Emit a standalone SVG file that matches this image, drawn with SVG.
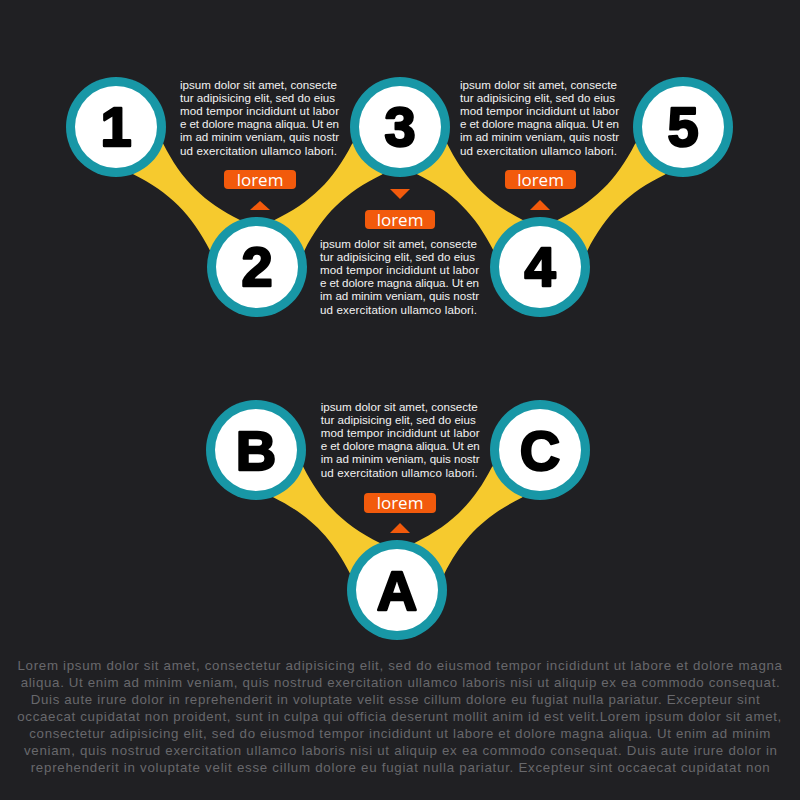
<svg xmlns="http://www.w3.org/2000/svg" xmlns:xlink="http://www.w3.org/1999/xlink" width="800" height="800" viewBox="0 0 800 800">
<style>
.ring{fill:#1897a6}
.core{fill:#ffffff}
.num{font-family:"Liberation Sans",Arial,sans-serif;font-weight:bold;font-size:56px;fill:#000;stroke:#000;stroke-width:2.4;stroke-linejoin:round;text-anchor:middle}
.small{font-family:"Liberation Sans",Arial,sans-serif;font-size:11.6px;fill:#f2f2f2}
.tag{fill:#f25a0c}
.tagtxt{font-family:"Open Sans","Noto Sans",sans-serif;font-size:17px;fill:#ffffff;text-anchor:middle}
.body{font-family:"Liberation Sans",Arial,sans-serif;font-size:13.3px;fill:#68686c}
.band{fill:#f6ca2e}
</style>
<defs>
<path id="band" d="M30,-21.5 L45,-21.5 C84,-8.5 115,-8.5 154,-21.5 L169,-21.5 L169,21.5 L154,21.5 C115,8.5 84,8.5 45,21.5 L30,21.5 Z"/>
<g id="para">
<text x="0" y="0" textLength="157">ipsum dolor sit amet, consecte</text>
<text x="0" y="13.1" textLength="155">tur adipisicing elit, sed do eius</text>
<text x="0" y="26.2" textLength="159">mod tempor incididunt ut labor</text>
<text x="0" y="39.3" textLength="159">e et dolore magna aliqua. Ut en</text>
<text x="0" y="52.4" textLength="159">im ad minim veniam, quis nostr</text>
<text x="0" y="65.5" textLength="157">ud exercitation ullamco labori.</text>
</g>
</defs>
<rect x="0" y="0" width="800" height="800" fill="#202023"/>

<g id="connectors">
<use xlink:href="#band" class="band" transform="translate(116,127) rotate(44.8)"/>
<use xlink:href="#band" class="band" transform="translate(257,267) rotate(-44.4)"/>
<use xlink:href="#band" class="band" transform="translate(400,127) rotate(45)"/>
<use xlink:href="#band" class="band" transform="translate(540,267) rotate(-44.4)"/>
<use xlink:href="#band" class="band" transform="translate(256,450) rotate(44.8)"/>
<use xlink:href="#band" class="band" transform="translate(397,590) rotate(-44.4)"/>
</g>

<g id="node-1"><circle class="ring" cx="116" cy="127" r="50"/><circle class="core" cx="116" cy="127" r="41"/><text class="num" x="116" y="146">1</text></g>
<g id="node-2"><circle class="ring" cx="257" cy="267" r="50"/><circle class="core" cx="257" cy="267" r="41"/><text class="num" x="257" y="286">2</text></g>
<g id="node-3"><circle class="ring" cx="400" cy="127" r="50"/><circle class="core" cx="400" cy="127" r="41"/><text class="num" x="400" y="146">3</text></g>
<g id="node-4"><circle class="ring" cx="540" cy="267" r="50"/><circle class="core" cx="540" cy="267" r="41"/><text class="num" x="540" y="286">4</text></g>
<g id="node-5"><circle class="ring" cx="683" cy="127" r="50"/><circle class="core" cx="683" cy="127" r="41"/><text class="num" x="683" y="146">5</text></g>
<g id="node-B"><circle class="ring" cx="256" cy="450" r="50"/><circle class="core" cx="256" cy="450" r="41"/><text class="num" x="256" y="470">B</text></g>
<g id="node-C"><circle class="ring" cx="540" cy="450" r="50"/><circle class="core" cx="540" cy="450" r="41"/><text class="num" x="540" y="470">C</text></g>
<g id="node-A"><circle class="ring" cx="397" cy="590" r="50"/><circle class="core" cx="397" cy="590" r="41"/><text class="num" x="397" y="610">A</text></g>

<g id="labels">
<rect class="tag" x="224" y="170" width="72" height="19" rx="4"/>
<text class="tagtxt" x="260" y="186">lorem</text>
<polygon class="tag" points="260,201 270,210 250,210"/>

<polygon class="tag" points="390,189 410,189 400,199"/>
<rect class="tag" x="365" y="210" width="70" height="19" rx="4"/>
<text class="tagtxt" x="400" y="226">lorem</text>

<rect class="tag" x="505" y="170" width="71" height="19" rx="4"/>
<text class="tagtxt" x="540.5" y="186">lorem</text>
<polygon class="tag" points="540,200 550,210 530,210"/>

<rect class="tag" x="364" y="493" width="72" height="20" rx="4"/>
<text class="tagtxt" x="400" y="509">lorem</text>
<polygon class="tag" points="400,523 410,533 390,533"/>
</g>

<g id="texts" class="small">
<use xlink:href="#para" transform="translate(180,89)"/>
<use xlink:href="#para" transform="translate(460,89)"/>
<use xlink:href="#para" transform="translate(320,248)"/>
<use xlink:href="#para" transform="translate(320.7,411)"/>
</g>

<g id="body" class="body">
<text x="17.5" y="670" textLength="764.5">Lorem ipsum dolor sit amet, consectetur adipisicing elit, sed do eiusmod tempor incididunt ut labore et dolore magna</text>
<text x="20.7" y="687" textLength="759">aliqua. Ut enim ad minim veniam, quis nostrud exercitation ullamco laboris nisi ut aliquip ex ea commodo consequat.</text>
<text x="30.7" y="704" textLength="729">Duis aute irure dolor in reprehenderit in voluptate velit esse cillum dolore eu fugiat nulla pariatur. Excepteur sint</text>
<text x="17.3" y="721" textLength="764">occaecat cupidatat non proident, sunt in culpa qui officia deserunt mollit anim id est velit.Lorem ipsum dolor sit amet,</text>
<text x="29.3" y="738" textLength="741">consectetur adipisicing elit, sed do eiusmod tempor incididunt ut labore et dolore magna aliqua. Ut enim ad minim</text>
<text x="24" y="755" textLength="753">veniam, quis nostrud exercitation ullamco laboris nisi ut aliquip ex ea commodo consequat. Duis aute irure dolor in</text>
<text x="30.7" y="772" textLength="739">reprehenderit in voluptate velit esse cillum dolore eu fugiat nulla pariatur. Excepteur sint occaecat cupidatat non</text>
</g>
</svg>
